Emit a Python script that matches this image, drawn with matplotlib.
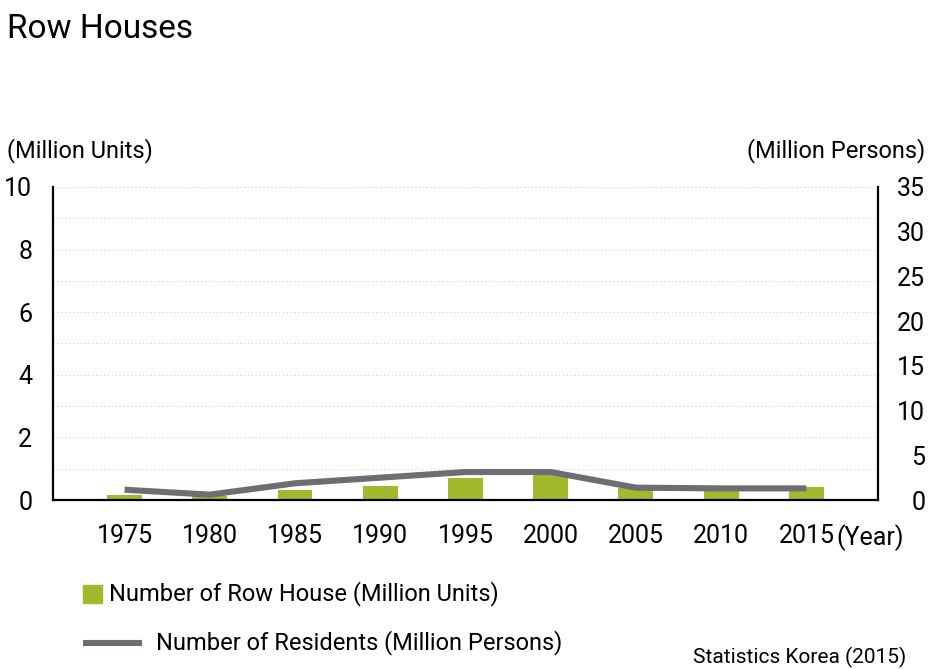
import matplotlib
matplotlib.use("Agg")
import matplotlib.pyplot as plt
from matplotlib.lines import Line2D

plt.rcParams['font.family'] = ['Roboto', 'DejaVu Sans']

# datos
anios = ['1975', '1980', '1985', '1990', '1995', '2000', '2005', '2010', '2015']
viviendas = [0.15, 0.12, 0.32, 0.45, 0.71, 0.80, 0.38, 0.45, 0.42]   # millones de unidades
residentes = [1.15, 0.6, 1.87, 2.5, 3.13, 3.13, 1.38, 1.3, 1.3]       # millones de personas

verde = '#a4b82e'
gris = '#6b6e72'

fig = plt.figure(figsize=(9.36, 6.69), dpi=100)
ax = fig.add_axes([0.0566, 0.2526, 0.8814, 0.4679])
ax2 = ax.twinx()

x = list(range(len(anios)))
ax.bar(x, viviendas, width=0.41, color=verde, zorder=2)
ax2.plot(x, residentes, color=gris, lw=4.4, solid_joinstyle='miter',
         solid_capstyle='butt', zorder=3)

ax.set_xlim(-0.84, 8.84)
ax.set_ylim(0, 10)
ax2.set_ylim(0, 35)
ax.set_yticks([0, 2, 4, 6, 8, 10])
ax2.set_yticks([0, 5, 10, 15, 20, 25, 30, 35])
ax.set_xticks(x)
ax.set_xticklabels(anios)

# rejilla punteada cada unidad
for v in range(1, 11):
    ax.axhline(v, color='#cfcfcf', lw=0.8, ls=(0, (1, 2.5)), zorder=1)

for a in (ax, ax2):
    a.spines['top'].set_visible(False)
    for s in ('left', 'right', 'bottom'):
        a.spines[s].set_linewidth(1.6)
        a.spines[s].set_color('black')
    a.tick_params(length=0, labelsize=18)
ax.spines['right'].set_visible(False)
ax2.spines['left'].set_visible(False)
ax2.spines['bottom'].set_visible(False)
ax.tick_params(axis='y', pad=15)
ax.tick_params(axis='x', pad=17)
for lbl in ax2.get_yticklabels():
    lbl.set_horizontalalignment('right')
ax2.tick_params(axis='y', pad=34)
ax.set_zorder(ax2.get_zorder() - 1)
ax2.patch.set_visible(False)

# textos
fig.text(0.007, 0.956, 'Row Houses', fontsize=24, va='center', ha='left')
fig.text(0.007, 0.775, '(Million Units)', fontsize=17, va='center', ha='left')
fig.text(0.988, 0.775, '(Million Persons)', fontsize=17, va='center', ha='right')
fig.text(0.894, 0.197, '(Year)', fontsize=18, va='center', ha='left')
fig.text(0.968, 0.018, 'Statistics Korea (2015)', fontsize=15, va='center', ha='right')

# leyenda
fig.patches.append(plt.Rectangle((0.0887, 0.0987), 0.0203, 0.0269,
                                 transform=fig.transFigure, color=verde))
fig.text(0.116, 0.113, 'Number of Row House (Million Units)', fontsize=17, va='center', ha='left')
fig.add_artist(Line2D([0.0887, 0.152], [0.0395, 0.0395], color=gris, lw=4.4,
                      solid_capstyle='butt', transform=fig.transFigure))
fig.text(0.167, 0.040, 'Number of Residents (Million Persons)', fontsize=17, va='center', ha='left')

plt.savefig('out.png', dpi=100)
